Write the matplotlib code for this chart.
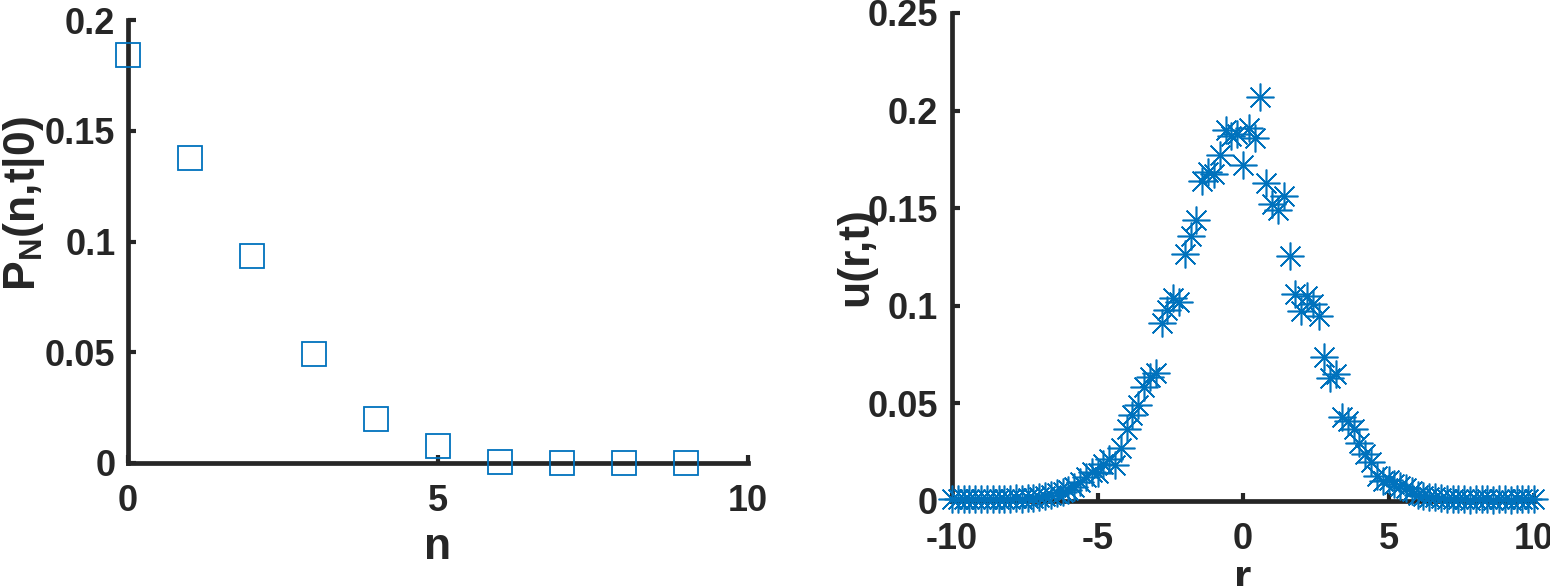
import matplotlib
matplotlib.use("Agg")
import matplotlib.pyplot as plt

# left panel: P_N(n,t|0)
n_vals = [0, 1, 2, 3, 4, 5, 6, 7, 8, 9]
pn_vals = [0.1842, 0.1376, 0.0936, 0.0492, 0.0198, 0.0076, 0.0005, 0.0002, 0.0000, 0.0001]

# right panel: u(r,t)
r_vals = [-10.0, -9.8, -9.6, -9.4, -9.2, -9.0, -8.8, -8.6, -8.4, -8.2,
          -8.0, -7.8, -7.6, -7.4, -7.2, -7.0, -6.8, -6.6, -6.4, -6.2,
          -6.0, -5.8, -5.6, -5.4, -5.2, -5.0, -4.8, -4.6, -4.4, -4.2,
          -4.0, -3.8, -3.6, -3.4, -3.2, -3.0, -2.8, -2.6, -2.4, -2.2,
          -2.0, -1.8, -1.6, -1.4, -1.2, -1.0, -0.8, -0.6, -0.4, -0.2,
          0.0, 0.2, 0.4, 0.6, 0.8, 1.0, 1.2, 1.4, 1.6, 1.8,
          2.0, 2.2, 2.4, 2.6, 2.8, 3.0, 3.2, 3.4, 3.6, 3.8,
          4.0, 4.2, 4.4, 4.6, 4.8, 5.0, 5.2, 5.4, 5.6, 5.8,
          6.0, 6.2, 6.4, 6.6, 6.8, 7.0, 7.2, 7.4, 7.6, 7.8,
          8.0, 8.2, 8.4, 8.6, 8.8, 9.0, 9.2, 9.4, 9.6, 9.8, 10.0]
u_vals = [0.0010, 0.0008, 0.0012, 0.0010, 0.0008, 0.0012, 0.0010, 0.0009, 0.0012, 0.0010,
          0.0011, 0.0013, 0.0012, 0.0016, 0.0015, 0.0020, 0.0025, 0.0030, 0.0040, 0.0045,
          0.0055, 0.0070, 0.0095, 0.0125, 0.0150, 0.0145, 0.0190, 0.0215, 0.0185, 0.0271,
          0.0369, 0.0442, 0.0492, 0.0585, 0.0636, 0.0658, 0.0910, 0.0980, 0.1040, 0.1020,
          0.1266, 0.1360, 0.1437, 0.1640, 0.1685, 0.1677, 0.1775, 0.1900, 0.1870, 0.1880,
          0.1720, 0.1910, 0.1860, 0.2070, 0.1630, 0.1520, 0.1490, 0.1560, 0.1254, 0.1060,
          0.0975, 0.1050, 0.1010, 0.0950, 0.0738, 0.0628, 0.0653, 0.0430, 0.0410, 0.0370,
          0.0298, 0.0239, 0.0200, 0.0128, 0.0103, 0.0110, 0.0086, 0.0075, 0.0065, 0.0050,
          0.0030, 0.0025, 0.0020, 0.0018, 0.0015, 0.0012, 0.0010, 0.0008, 0.0010, 0.0007,
          0.0009, 0.0008, 0.0010, 0.0007, 0.0008, 0.0009, 0.0007, 0.0008, 0.0010, 0.0008, 0.0009]

left_xticks = [0, 5, 10]
left_yticks = [0, 0.05, 0.1, 0.15, 0.2]
left_ytick_labels = ['0', '0.05', '0.1', '0.15', '0.2']
right_xticks = [-10, -5, 0, 5, 10]
right_yticks = [0, 0.05, 0.1, 0.15, 0.2, 0.25]
right_ytick_labels = ['0', '0.05', '0.1', '0.15', '0.2', '0.25']

blue = '#0072BD'
dark = '#262626'

plt.rcParams['font.family'] = ['Liberation Sans', 'DejaVu Sans']
plt.rcParams['font.weight'] = 'bold'
plt.rcParams['axes.unicode_minus'] = False
plt.rcParams['mathtext.fontset'] = 'custom'
plt.rcParams['mathtext.bf'] = 'Liberation Sans:bold'
plt.rcParams['mathtext.rm'] = 'Liberation Sans:bold'

fig = plt.figure(figsize=(15.5, 5.86), dpi=100)
ax1 = fig.add_axes([128 / 1550, 1 - 463 / 586, 620 / 1550, 443 / 586])
ax2 = fig.add_axes([952 / 1550, 1 - 501 / 586, 582 / 1550, 488 / 586])


def style_axes(ax):
    for side in ['top', 'right']:
        ax.spines[side].set_visible(False)
    for side in ['left', 'bottom']:
        ax.spines[side].set_linewidth(3.4)
        ax.spines[side].set_color(dark)
    ax.tick_params(direction='in', length=6, width=3, colors=dark,
                   labelsize=26)
    for lab in ax.get_xticklabels() + ax.get_yticklabels():
        lab.set_fontweight('bold')


# left plot
ax1.plot(n_vals, pn_vals, linestyle='none', marker='s', markersize=17,
         markerfacecolor='none', markeredgecolor=blue, markeredgewidth=1.3,
         clip_on=False, zorder=5)
ax1.set_xlim(0, 10)
ax1.set_ylim(0, 0.2)
ax1.set_xticks(left_xticks)
ax1.set_yticks(left_yticks)
ax1.set_yticklabels(left_ytick_labels)
style_axes(ax1)
ax1.tick_params(axis='x', pad=15)
ax1.tick_params(axis='y', pad=9)
ax1.set_xlabel('n', fontsize=32, fontweight='bold', color=dark, va='center')
ax1.xaxis.set_label_coords(0.5, -0.19)
ax1.set_ylabel(r'$\mathbf{P_N(n{,}t|0)}$', fontsize=32, color=dark, va='center')
ax1.yaxis.set_label_coords(-0.167, 0.585)

# right plot
ax2.plot(r_vals, u_vals, linestyle='none', marker=(8, 2, 0), markersize=20,
         markeredgecolor=blue, markerfacecolor=blue, markeredgewidth=1.15,
         clip_on=False, zorder=5)
ax2.set_xlim(-10, 10)
ax2.set_ylim(0, 0.25)
ax2.set_xticks(right_xticks)
ax2.set_yticks(right_yticks)
ax2.set_yticklabels(right_ytick_labels)
style_axes(ax2)
ax2.tick_params(axis='x', pad=15)
ax2.tick_params(axis='y', pad=10)
ax2.set_xlabel('r', fontsize=32, fontweight='bold', color=dark, va='center')
ax2.xaxis.set_label_coords(0.5, -0.16)
ax2.set_ylabel('u(r,t)', fontsize=32, fontweight='bold', color=dark, va='center')
ax2.yaxis.set_label_coords(-0.165, 0.5)

fig.savefig('out.png', dpi=100)
